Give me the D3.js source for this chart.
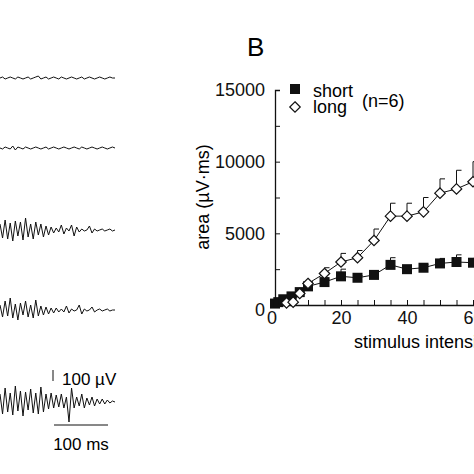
<!DOCTYPE html>
<html><head><meta charset="utf-8">
<script src="https://cdn.jsdelivr.net/npm/d3@7"></script>
<style>body{margin:0;background:#fff}svg{font-family:"Liberation Sans",Arial,sans-serif}</style>
</head><body>
<svg id="chart" width="474" height="474"></svg>
<script>
// panel B data
var intensity = [0, 1, 2.5, 5, 7.5, 10, 15, 20, 25, 30, 35, 40, 45, 50, 55, 60, 65];
var shortArea = [100, 200, 400, 600, 900, 1300, 1600, 2000, 1900, 2100, 2800, 2500, 2600, 2900, 3000, 2950, 3100];
var shortErr  = [0, 0, 0, 0, 0, 100, 200, 500, 150, 150, 500, 200, 200, 350, 500, 300, 400];
var longX     = [3.5, 5.5, 7.5, 10, 15, 20, 25, 30, 35, 40, 45, 50, 55, 60, 65];
var longArea  = [150, 200, 800, 1500, 2200, 3000, 3300, 4500, 6200, 6200, 6500, 7800, 8100, 8600, 9000];
var longErr   = [0, 0, 0, 100, 400, 600, 500, 800, 900, 900, 1000, 1000, 1300, 1400, 1500];
var yTicks = [0, 5000, 10000, 15000];
var xTicks = [0, 20, 40, 60];

// panel A traces: baseline y and rough sample amplitudes (px), read by eye
var traceBase = [78, 148, 230, 310, 402];
var traces = [
  [0,1,-1,0,1,0,-1,1,0,-1,0,1,-1,0,1,2,-1,0,1,-1,0,1,0,-1,1,0,-1,0,1,0,-1,0,1,-1,0,1,0,-1,0,1,0,-1,0,1,0,0],
  [0,-1,1,0,-1,2,-2,1,0,-1,1,0,-1,0,1,0,-1,0,1,-1,0,1,0,-1,0,1,0,-1,0,1,0,-1,1,0,-1,0,1,0,-1,0,1,0,-1,0,1,0],
  [6,-8,10,-9,7,-11,9,-6,8,-10,12,-7,6,-9,8,-5,6,-7,4,-5,3,-3,2,-2,5,-4,2,-1,5,-6,3,-2,1,-1,0,4,-3,1,-1,0,1,-1,0,1,-1,0],
  [5,-7,9,-6,12,-8,6,-10,7,-5,9,-7,5,-8,10,-6,4,-5,3,-4,2,-3,2,-2,1,-2,4,-3,1,-1,0,5,-4,1,-1,0,3,-2,0,1,-1,0,1,-1,0,0],
  [8,-12,14,-10,9,-13,16,-9,11,-14,10,-8,13,-11,9,-12,15,-10,8,-7,9,-6,7,-5,8,-6,5,-20,14,-6,5,-4,8,-6,4,-3,5,-4,3,-2,3,-2,2,-1,1,0]
];

var svg = d3.select("#chart");

// ---- panel A ----
var tx = d3.scaleLinear().domain([0, traces[0].length - 1]).range([0, 115]);
traces.forEach(function (t, i) {
  svg.append("path")
    .attr("d", d3.line().x(function (d, j) { return tx(j); }).y(function (d) { return traceBase[i] - d; })(t))
    .attr("fill", "none").attr("stroke", "#111").attr("stroke-width", 1);
});
svg.append("line").attr("x1", 53).attr("x2", 53).attr("y1", 370).attr("y2", 381).attr("stroke", "#111");
svg.append("text").attr("x", 62).attr("y", 385).attr("font-size", 17).text("100 µV");
svg.append("line").attr("x1", 54).attr("x2", 108).attr("y1", 425).attr("y2", 425).attr("stroke", "#111");
svg.append("text").attr("x", 81).attr("y", 450).attr("font-size", 17).attr("text-anchor", "middle").text("100 ms");

// ---- panel B ----
var x = d3.scaleLinear().domain([0, 70]).range([275, 506]);
var y = d3.scaleLinear().domain([0, 15000]).range([305, 90]);

svg.append("text").attr("x", 247).attr("y", 56).attr("font-size", 26).text("B");

var gy = svg.append("g").attr("transform", "translate(275,0)")
  .call(d3.axisLeft(y).tickValues(d3.range(0, 15001, 2500)).tickSize(-5)
    .tickFormat(function (d) { return yTicks.indexOf(d) >= 0 ? d : ""; }));
var gx = svg.append("g").attr("transform", "translate(0,305)")
  .call(d3.axisBottom(x).tickValues(d3.range(0, 71, 5)).tickSize(-5)
    .tickFormat(function (d) { return xTicks.indexOf(d) >= 0 ? d : ""; }));
[gx, gy].forEach(function (g) {
  g.select(".domain").attr("stroke", "#111").attr("stroke-width", 1.3);
  g.selectAll("line").attr("stroke", "#111");
  g.selectAll("text").attr("font-size", 18).attr("fill", "#111").attr("font-family", "Liberation Sans, Arial");
});
gy.selectAll("text").attr("x", -10);
gy.selectAll(".tick").filter(function (d) { return d === 0; }).select("text").attr("dy", "0.6em");
gx.selectAll("text").attr("y", 6);
gx.selectAll(".tick").filter(function (d) { return d === 0; }).select("text").attr("dx", "-0.2em");

svg.append("text").attr("transform", "translate(209,197) rotate(-90)")
  .attr("text-anchor", "middle").attr("font-size", 18).text("area (µV·ms)");
svg.append("text").attr("x", 354).attr("y", 348).attr("font-size", 18).text("stimulus intensity");

// error bars
function errBars(xs, ys, es) {
  xs.forEach(function (d, i) {
    if (!es[i]) return;
    svg.append("line").attr("x1", x(d)).attr("x2", x(d)).attr("y1", y(ys[i])).attr("y2", y(ys[i] + es[i])).attr("stroke", "#111");
    svg.append("line").attr("x1", x(d)).attr("x2", x(d) + 5).attr("y1", y(ys[i] + es[i])).attr("y2", y(ys[i] + es[i])).attr("stroke", "#111");
  });
}
errBars(intensity, shortArea, shortErr);
errBars(longX, longArea, longErr);

var line = d3.line().x(function (d) { return x(d[0]); }).y(function (d) { return y(d[1]); });
svg.append("path").attr("d", line(d3.zip(intensity, shortArea))).attr("fill", "none").attr("stroke", "#111");
svg.append("path").attr("d", line(d3.zip(longX, longArea))).attr("fill", "none").attr("stroke", "#111");

svg.selectAll(".sq").data(d3.zip(intensity, shortArea)).enter().append("rect")
  .attr("x", function (d) { return x(d[0]) - 5; }).attr("y", function (d) { return y(d[1]) - 5; })
  .attr("width", 10).attr("height", 10).attr("fill", "#111");
var dia = d3.symbol().type(d3.symbolDiamond2).size(70);
svg.selectAll(".dm").data(d3.zip(longX, longArea)).enter().append("path")
  .attr("d", dia).attr("transform", function (d) { return "translate(" + x(d[0]) + "," + y(d[1]) + ")"; })
  .attr("fill", "#fff").attr("stroke", "#111").attr("stroke-width", 1.2);

// legend
svg.append("rect").attr("x", 290).attr("y", 84).attr("width", 10).attr("height", 10).attr("fill", "#111");
svg.append("text").attr("x", 313).attr("y", 97).attr("font-size", 18).text("short");
svg.append("path").attr("d", dia).attr("transform", "translate(295,107)").attr("fill", "#fff").attr("stroke", "#111").attr("stroke-width", 1.2);
svg.append("text").attr("x", 313).attr("y", 113).attr("font-size", 18).text("long");
svg.append("text").attr("x", 362).attr("y", 107).attr("font-size", 18).text("(n=6)");
</script>
</body></html>
